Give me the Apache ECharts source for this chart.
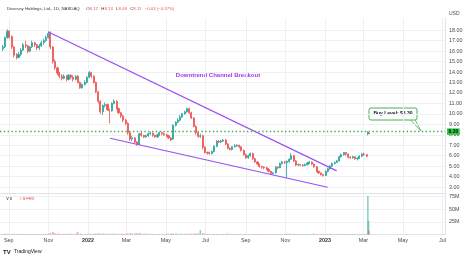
<!DOCTYPE html>
<html><head><meta charset="utf-8">
<script src="https://cdn.jsdelivr.net/npm/echarts@6/dist/echarts.min.js"></script>
<style>html,body{margin:0;padding:0;background:#fff}#c{width:474px;height:258px}</style>
</head><body><div id="c"></div>
<script>
const dates = [
'2021-08-23','2021-08-26','2021-08-30','2021-09-02','2021-09-06','2021-09-09','2021-09-13','2021-09-16','2021-09-20','2021-09-23','2021-09-27','2021-09-30',
'2021-10-04','2021-10-07','2021-10-11','2021-10-14','2021-10-18','2021-10-21','2021-10-25','2021-10-28',
'2021-11-01','2021-11-04','2021-11-08','2021-11-11','2021-11-15','2021-11-18','2021-11-22','2021-11-25','2021-11-29',
'2021-12-02','2021-12-06','2021-12-09','2021-12-13','2021-12-16','2021-12-20','2021-12-23','2021-12-27','2021-12-30',
'2022-01-03','2022-01-06','2022-01-10','2022-01-13','2022-01-17','2022-01-20','2022-01-24','2022-01-27','2022-01-31',
'2022-02-03','2022-02-07','2022-02-10','2022-02-14','2022-02-17','2022-02-21','2022-02-24','2022-02-28',
'2022-03-03','2022-03-07','2022-03-10','2022-03-14','2022-03-17','2022-03-21','2022-03-24','2022-03-28','2022-03-31',
'2022-04-04','2022-04-07','2022-04-11','2022-04-14','2022-04-18','2022-04-21','2022-04-25','2022-04-28',
'2022-05-02','2022-05-05','2022-05-09','2022-05-12','2022-05-16','2022-05-19','2022-05-23','2022-05-26','2022-05-30',
'2022-06-02','2022-06-06','2022-06-09','2022-06-13','2022-06-16','2022-06-20','2022-06-23','2022-06-27','2022-06-30',
'2022-07-04','2022-07-07','2022-07-11','2022-07-14','2022-07-18','2022-07-21','2022-07-25','2022-07-28',
'2022-08-01','2022-08-04','2022-08-08','2022-08-11','2022-08-15','2022-08-18','2022-08-22','2022-08-25','2022-08-29',
'2022-09-01','2022-09-05','2022-09-08','2022-09-12','2022-09-15','2022-09-19','2022-09-22','2022-09-26','2022-09-29',
'2022-10-03','2022-10-06','2022-10-10','2022-10-13','2022-10-17','2022-10-20','2022-10-24','2022-10-27','2022-10-31',
'2022-11-03','2022-11-07','2022-11-10','2022-11-14','2022-11-17','2022-11-21','2022-11-24','2022-11-28',
'2022-12-01','2022-12-05','2022-12-08','2022-12-12','2022-12-15','2022-12-19','2022-12-22','2022-12-26','2022-12-29',
'2023-01-02','2023-01-05','2023-01-09','2023-01-12','2023-01-16','2023-01-19','2023-01-23','2023-01-26','2023-01-30',
'2023-02-02','2023-02-06','2023-02-09','2023-02-13','2023-02-16','2023-02-20','2023-02-23','2023-02-27',
'2023-03-02','2023-03-06','2023-03-08','2023-03-09','2023-03-10'
];
// [open, close, low, high]
const ohlc = [
[16.2,16.4,16.0,16.6],[16.4,17.3,16.3,17.4],[17.3,17.9,17.2,18.1],[17.9,17.4,17.2,18.0],[17.4,16.4,16.2,17.5],[16.4,15.6,15.4,16.5],[15.6,15.4,15.2,15.8],[15.4,15.7,15.3,15.9],[15.7,16.1,15.5,16.3],[16.1,16.6,16.0,16.8],[16.6,16.5,16.3,17.0],[16.5,16.0,15.8,16.6],
[16.0,16.4,15.9,16.5],[16.4,16.8,16.3,17.0],[16.8,16.6,16.4,16.9],[16.6,16.3,16.1,16.7],[16.3,16.5,16.1,16.7],[16.5,16.8,16.4,17.0],[16.8,17.0,16.6,17.2],[17.0,17.3,16.9,17.5],
[17.3,17.7,17.2,17.9],[17.7,16.4,16.2,17.9],[16.4,15.0,14.8,16.5],[15.0,14.4,14.2,15.2],[14.4,13.9,13.7,14.5],[13.9,13.6,13.4,14.0],[13.6,13.4,13.2,13.8],[13.4,13.6,13.3,13.8],[13.6,13.3,13.1,13.7],
[13.3,13.7,13.2,13.8],[13.7,13.5,13.3,13.8],[13.5,13.3,13.1,13.7],[13.3,13.6,13.2,13.7],[13.6,13.0,12.9,13.7],[13.0,12.5,12.4,13.1],[12.5,12.8,12.4,12.9],[12.8,13.0,12.7,13.2],[13.0,13.5,12.9,13.6],
[13.5,13.95,13.4,14.1],[13.95,13.6,13.4,14.0],[13.6,13.0,12.9,13.7],[13.0,12.1,12.0,13.1],[12.1,11.2,11.0,12.2],[11.2,10.2,10.0,11.3],[10.2,10.8,9.9,10.9],[10.8,10.9,10.6,11.1],[10.9,10.4,10.3,11.0],
[10.4,10.3,9.1,10.5],[10.3,11.0,10.2,11.1],[11.0,11.2,10.9,11.4],[11.2,10.5,10.4,11.3],[10.5,10.1,10.0,10.6],[10.1,9.8,9.6,10.2],[9.8,9.4,9.2,9.9],[9.4,9.1,8.9,9.5],
[9.1,8.2,8.0,9.2],[8.2,7.6,7.4,8.3],[7.6,7.7,7.4,7.9],[7.7,7.3,7.2,7.8],[7.3,7.1,6.95,7.4],[7.1,8.1,7.0,8.2],[8.1,7.95,7.8,8.3],[7.95,7.8,7.7,8.0],[7.8,7.9,7.7,8.0],
[7.9,8.1,7.8,8.2],[8.1,8.15,8.0,8.3],[8.15,7.95,7.8,8.2],[7.95,7.8,7.7,8.0],[7.8,8.0,7.7,8.1],[8.0,8.2,7.9,8.3],[8.2,8.1,7.95,8.3],[8.1,8.0,7.9,8.2],
[8.0,7.9,7.8,8.1],[7.9,7.7,7.6,8.0],[7.7,7.5,7.4,7.8],[7.6,8.9,7.5,9.0],[8.9,9.2,8.8,9.3],[9.2,9.4,9.1,9.6],[9.4,9.7,9.3,9.9],[9.7,10.0,9.6,10.1],[10.0,10.2,9.9,10.3],
[10.2,10.5,10.1,10.6],[10.5,10.1,10.0,10.6],[10.1,9.6,9.5,10.2],[9.6,8.8,8.7,9.7],[8.8,8.2,8.0,8.9],[8.2,7.85,7.7,8.3],[7.85,7.9,7.7,8.1],[7.9,6.8,6.6,8.0],[6.8,6.3,6.2,6.9],
[6.3,6.25,6.1,6.4],[6.25,6.2,6.1,6.4],[6.2,6.4,6.1,6.5],[6.4,6.9,6.3,7.0],[6.9,7.35,6.8,7.5],[7.35,7.3,7.2,7.5],[7.3,7.4,7.2,7.5],[7.4,7.5,7.3,7.6],
[7.5,7.1,7.0,7.6],[7.1,6.7,6.6,7.2],[6.7,6.6,6.5,6.8],[6.6,6.85,6.5,6.9],[6.85,6.95,6.8,7.1],[6.95,7.0,6.85,7.1],[7.0,6.85,6.7,7.05],[6.85,6.5,6.4,6.9],[6.5,6.1,6.0,6.6],
[6.1,5.8,5.7,6.2],[5.8,6.0,5.7,6.1],[6.0,6.2,5.9,6.3],[6.2,5.7,5.6,6.3],[5.7,5.4,5.3,5.8],[5.4,5.2,5.1,5.5],[5.2,4.95,4.85,5.25],[4.95,4.9,4.75,5.05],[4.9,4.85,4.7,5.0],
[4.85,4.7,4.6,4.95],[4.7,4.5,4.4,4.8],[4.5,4.3,4.2,4.55],[4.3,4.35,4.2,4.45],[4.35,4.9,4.3,5.0],[4.9,4.85,4.7,5.0],[4.85,5.25,4.8,5.35],[5.25,5.4,5.15,5.5],[5.4,5.35,5.2,5.5],
[5.35,5.45,3.85,5.55],[5.45,5.65,5.3,5.75],[5.65,6.0,5.6,6.25],[6.0,5.5,5.4,6.1],[5.5,5.1,5.0,5.6],[5.1,5.15,5.0,5.25],[5.15,5.1,5.0,5.2],[5.1,5.05,4.95,5.2],
[5.05,5.15,5.0,5.25],[5.15,5.3,5.05,5.4],[5.3,5.4,5.2,5.5],[5.4,5.2,5.1,5.45],[5.2,4.95,4.85,5.25],[4.95,4.5,4.4,5.0],[4.5,4.35,4.25,4.55],[4.35,4.2,4.1,4.4],[4.2,4.1,4.0,4.25],
[4.1,4.5,4.05,4.6],[4.5,4.75,4.4,4.85],[4.75,5.0,4.65,5.1],[5.0,5.25,4.9,5.35],[5.25,5.35,5.15,5.45],[5.35,5.5,5.3,5.6],[5.5,5.9,5.45,6.0],[5.9,6.1,5.8,6.2],[6.1,6.3,6.0,6.35],
[6.3,6.15,6.0,6.35],[6.15,5.85,5.75,6.2],[5.85,5.8,5.7,5.95],[5.8,5.9,5.7,6.0],[5.9,5.7,5.6,5.95],[5.7,5.75,5.55,5.85],[5.75,5.95,5.7,6.05],[5.95,6.15,5.85,6.25],
[6.15,6.1,6.0,6.3],[6.1,5.95,5.85,6.15],[8.1,8.2,7.95,8.35],[8.12,8.16,8.1,8.22],[8.12,8.11,8.08,8.13]
];
// volume, millions
const volumes = [
1.2,1.5,1.3,1.0,1.2,1.4,1.1,1.0,1.3,1.0,1.1,1.2,
1.0,0.9,1.0,1.1,0.9,1.0,1.2,1.1,
1.5,3.2,4.8,2.5,1.8,1.5,1.2,0.8,1.4,
1.3,1.5,1.2,1.4,5.2,1.6,1.0,0.8,1.0,
1.5,1.3,1.4,1.8,2.2,2.0,1.8,1.4,1.3,
1.6,1.4,1.3,1.5,1.2,1.3,1.4,1.6,
2.2,2.5,2.0,2.3,2.8,3.0,1.8,1.5,1.6,
1.4,1.3,1.2,1.1,1.0,1.2,1.1,1.0,
1.2,1.5,1.8,2.2,1.6,1.5,1.4,1.6,1.3,
1.5,1.6,1.7,2.0,2.4,2.2,8.8,3.0,2.0,
1.2,1.1,1.0,1.2,1.3,1.1,1.0,1.0,
1.4,1.6,1.2,1.1,1.0,1.0,0.9,1.0,1.1,
1.0,0.9,1.0,1.2,1.1,1.0,1.1,0.9,1.0,
0.9,1.0,1.1,1.0,1.2,1.1,1.0,1.1,1.0,
1.8,1.5,1.6,1.3,1.2,1.1,1.0,1.2,
1.1,1.2,1.0,1.3,1.5,1.2,1.0,0.8,0.9,
1.0,1.2,1.3,1.1,1.0,1.2,1.3,1.1,1.0,
1.1,1.0,0.9,1.0,1.1,0.9,1.0,1.2,
1.2,1.3,76,27,7.644
];
const priceTicks = [3,4,5,6,7,8,9,10,11,12,13,14,15,16,17,18];
const volTicks = [25,50,75];
const monthTicks = ['2021-09-01','2021-11-01','2022-01-01','2022-03-01','2022-05-01','2022-07-01','2022-09-01','2022-11-01','2023-01-01','2023-03-01','2023-05-01','2023-07-01'];
const monthLabels = ['Sep','Nov','2022','Mar','May','Jul','Sep','Nov','2023','Mar','May','Jul'];
const buyLevel = 8.30;
const upperLine = [['2021-11-01',17.83],['2023-01-19',4.55]];
const lowerLine = [['2022-02-04',7.67],['2023-01-05',2.98]];

const T = s => { const p = s.split('-').map(Number); return new Date(p[0], p[1]-1, p[2]).getTime(); };
const candleData = dates.map((d,i)=>[T(d), ohlc[i][0], ohlc[i][1], ohlc[i][2], ohlc[i][3]]);
const volData = dates.map((d,i)=>({value:[T(d), volumes[i]], itemStyle:{color: ohlc[i][1]>=ohlc[i][0] ? 'rgba(38,166,154,0.5)' : 'rgba(239,83,80,0.5)'}}));
const xMin = new Date(2021,7,18,11).getTime();
const xMax = new Date(2023,6,4,19).getTime();
const tickTs = monthTicks.map(T);
const FF = '"Liberation Sans", Arial, sans-serif';
const axisTxt = {color:'#4a4a4a', fontSize:5.4, fontFamily:FF};
const gridLine = {show:true, lineStyle:{color:'#eef0f4', width:1}};
const sepLine = {show:true, lineStyle:{color:'#e0e3eb', width:1}};
const purple = '#9c4ff0';
const xLabelFmt = v => { const i = tickTs.indexOf(v); if (i<0) return ''; const s = monthLabels[i]; return /^\d+$/.test(s) ? '{b|'+s+'}' : s; };

const chart = echarts.init(document.getElementById('c'), null, {renderer:'canvas', width:474, height:258});
chart.setOption({
  animation:false,
  backgroundColor:'#fff',
  grid:[{left:0, right:29, top:18, height:175}, {left:0, right:29, top:193, height:41.5}],
  xAxis:[
    {type:'value', gridIndex:0, min:xMin, max:xMax, scale:true, axisLine:sepLine,
     axisTick:{show:false, customValues:tickTs}, axisLabel:{show:false, customValues:tickTs}, splitLine:gridLine},
    {type:'value', gridIndex:1, min:xMin, max:xMax, scale:true, axisLine:sepLine,
     axisTick:{show:false, customValues:tickTs},
     axisLabel:{...axisTxt, customValues:tickTs, margin:4, formatter:xLabelFmt,
       rich:{b:{fontWeight:'bold', fontSize:5.4, color:'#333', fontFamily:FF}}},
     splitLine:gridLine}
  ],
  yAxis:[
    {type:'value', gridIndex:0, position:'right', min:2.43, max:19.17, axisLine:sepLine,
     axisTick:{show:false, customValues:priceTicks},
     axisLabel:{...axisTxt, customValues:priceTicks, margin:4, formatter: v => v.toFixed(2)}, splitLine:gridLine},
    {type:'value', gridIndex:1, position:'right', min:0, max:82, axisLine:sepLine,
     axisTick:{show:false, customValues:volTicks},
     axisLabel:{...axisTxt, customValues:volTicks, margin:4, formatter: v => v+'M'}, splitLine:gridLine}
  ],
  series:[
    {type:'candlestick', xAxisIndex:0, yAxisIndex:0, data:candleData, encode:{x:0, y:[1,2,3,4]}, barWidth:1.6,
     itemStyle:{color:'#26a69a', color0:'#ef5350', borderColor:'#26a69a', borderColor0:'#ef5350', borderWidth:0.8},
     markLine:{symbol:['none','none'], silent:true, animation:false,
       data:[{yAxis:buyLevel}],
       lineStyle:{color:'#3fae4a', type:[1.4,2.4], width:1.3},
       label:{position:'end', distance:2, formatter: buyLevel.toFixed(2), backgroundColor:'#2ecc40', color:'#111', fontSize:5, fontFamily:FF, fontWeight:'bold', padding:[1,1.5,0.5,1.5]}}},
    {type:'line', xAxisIndex:0, yAxisIndex:0, data:upperLine.map(p=>[T(p[0]),p[1]]), symbol:'none', silent:true,
     lineStyle:{color:purple, width:1.2}},
    {type:'line', xAxisIndex:0, yAxisIndex:0, data:lowerLine.map(p=>[T(p[0]),p[1]]), symbol:'none', silent:true,
     lineStyle:{color:purple, width:1.2}},
    {type:'bar', xAxisIndex:1, yAxisIndex:1, data:volData, barWidth:1.6, silent:true}
  ],
  graphic:[
    {type:'text', x:7, y:9, style:{text:'{n|Diversey Holdings, Ltd., 1D, NASDAQ}  {l|O}{v|8.12} {l|H}{v|8.13} {l|L}{v|8.08} {l|C}{v|8.11} {v|−0.03 (−0.37%)}',
      verticalAlign:'middle', rich:{n:{fontSize:4.3, fill:'#333', fontFamily:FF}, l:{fontSize:4.3, fill:'#333', fontFamily:FF}, v:{fontSize:4.3, fill:'#ef5350', fontFamily:FF}}}},
    {type:'text', x:449, y:14, style:{text:'USD', fill:'#4a4a4a', font:'5px '+FF, verticalAlign:'middle'}},
    {type:'text', x:6, y:199, style:{text:'{l|Vol}  {v|7.644M}', verticalAlign:'middle',
      rich:{l:{fontSize:4.5, fill:'#333', fontFamily:FF}, v:{fontSize:4.5, fill:'#ef5350', fontFamily:FF}}}},
    {type:'text', x:3, y:252, style:{text:'{l|TV} {n|TradingView}', verticalAlign:'middle',
      rich:{l:{fontSize:6, fontWeight:'bold', fill:'#131722', fontFamily:FF}, n:{fontSize:5, fill:'#131722', fontFamily:FF}}}},
    {type:'text', x:218, y:75, style:{text:'Downtrend Channel Breakout', fill:'#a03be6', font:'bold 6px '+FF, align:'center', verticalAlign:'middle'}},
    {type:'polyline', shape:{points:[[410,119.5],[421,131],[415,119.5]]}, style:{stroke:'#4caf50', lineWidth:0.8, fill:null}},
    {type:'rect', shape:{x:369, y:108, width:48, height:12, r:2}, style:{fill:'#fff', stroke:'#4caf50', lineWidth:1}},
    {type:'text', x:393, y:114, style:{text:'Buy Level: $8.30', fill:'#131722', font:'bold 5px '+FF, align:'center', verticalAlign:'middle'}}
  ]
});
</script></body></html>
